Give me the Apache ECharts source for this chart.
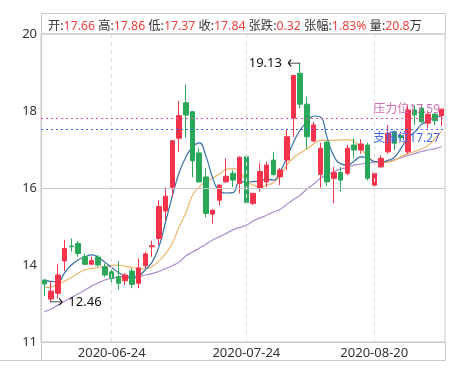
<!DOCTYPE html>
<html><head><meta charset="utf-8">
<script src="https://cdn.jsdelivr.net/npm/echarts@6/dist/echarts.min.js"></script>
<style>html,body{margin:0;padding:0;background:#fff}#c{width:450px;height:372px}</style>
</head><body><div id="c"></div>
<script>
const dates = ['2020-06-10','2020-06-11','2020-06-12','2020-06-15','2020-06-16','2020-06-17','2020-06-18','2020-06-19','2020-06-22','2020-06-23',
'2020-06-24','2020-06-29','2020-06-30','2020-07-01','2020-07-02','2020-07-03','2020-07-06','2020-07-07','2020-07-08','2020-07-09',
'2020-07-10','2020-07-13','2020-07-14','2020-07-15','2020-07-16','2020-07-17','2020-07-20','2020-07-21','2020-07-22','2020-07-23',
'2020-07-24','2020-07-27','2020-07-28','2020-07-29','2020-07-30','2020-07-31','2020-08-03','2020-08-04','2020-08-05','2020-08-06',
'2020-08-07','2020-08-10','2020-08-11','2020-08-12','2020-08-13','2020-08-14','2020-08-17','2020-08-18','2020-08-19','2020-08-20',
'2020-08-21','2020-08-24','2020-08-25','2020-08-26','2020-08-27','2020-08-28','2020-08-31','2020-09-01','2020-09-02','2020-09-03'];
const opens  = [13.07,12.54,12.70,13.60,14.02,14.09,13.72,13.51,13.71,13.44, 13.30,13.16,13.05,13.32,12.98,13.47,14.00,14.23,15.00,15.66,
                17.03,18.02,17.77,16.62,15.95,14.91,15.30,15.81,16.05,15.77, 16.51,15.21,15.63,15.81,16.42,15.95,16.42,17.59,18.84,17.98,
                16.95,16.02,16.92,15.91,16.07,16.05,16.84,16.70,16.84,15.72, 16.23,16.65,17.21,17.10,16.65,17.82,17.87,17.45,17.70,17.66];
const closes = [12.96,12.76,13.21,13.95,14.00,13.81,13.51,13.61,13.49,13.21, 13.12,12.98,13.21,12.95,13.41,13.80,14.03,15.12,15.41,16.96,
                17.66,17.68,16.40,15.81,14.93,15.02,15.72,15.97,15.86,16.50, 15.23,15.49,16.10,16.28,16.02,16.14,17.07,18.78,17.98,17.07,
                17.40,16.75,15.81,16.07,15.86,16.75,16.70,16.87,15.91,16.05, 16.47,17.17,16.89,17.05,17.82,17.68,17.49,17.70,17.52,17.84];
const lows   = [12.62,12.46,12.56,13.32,13.86,13.72,13.49,13.49,13.44,13.16, 12.98,12.80,12.93,12.84,12.84,13.40,13.72,14.05,14.74,15.40,
                16.64,17.03,15.94,15.79,14.82,14.65,15.16,15.79,15.67,15.49, 15.21,15.16,15.54,15.67,15.97,15.72,16.14,17.07,17.86,16.73,
                16.92,15.65,15.70,15.21,15.54,16.00,16.47,16.60,15.85,15.58, 16.20,16.60,16.70,16.95,16.60,17.40,17.45,17.30,17.40,17.37];
const highs  = [13.09,13.02,13.51,14.19,14.23,14.16,13.81,13.72,13.77,13.54, 13.38,13.60,13.26,13.40,13.68,13.86,14.17,15.30,15.66,16.98,
                18.07,18.52,17.78,16.75,16.19,15.04,15.74,16.47,16.14,16.52, 16.52,15.50,16.33,16.37,16.65,16.20,17.26,18.80,19.13,18.19,
                17.49,16.90,16.95,16.23,16.23,16.84,17.03,17.00,16.90,16.10, 16.55,17.40,17.25,17.15,17.95,17.95,17.95,17.80,17.75,17.86];
const ma5  = [13.06,13.03,13.02,13.27,13.49,13.63,13.72,13.77,13.70,13.57, 13.42,13.28,13.18,13.12,13.18,13.36,13.57,13.99,14.69,15.41,
              16.06,16.50,16.78,16.90,16.53,15.92,15.55,15.50,15.51,15.81, 15.81,15.82,15.83,15.89,15.86,16.09,16.48,16.92,17.26,17.48,
              17.65,17.62,17.04,16.53,16.32,16.28,16.39,16.51,16.48,16.38, 16.37,16.41,16.50,16.76,17.04,17.20,17.41,17.52,17.61,17.65];
const ma10 = [12.86,12.87,12.96,13.04,13.14,13.26,13.35,13.39,13.42,13.45, 13.48,13.49,13.46,13.42,13.38,13.38,13.45,13.60,13.81,14.10,
              14.55,14.94,15.44,15.67,15.81,15.92,16.03,16.16,16.18,16.10, 15.83,15.72,15.68,15.72,15.79,15.97,16.28,16.48,16.62,16.73,
              16.87,16.97,16.97,16.97,16.98,16.99,16.94,16.74,16.53,16.38, 16.35,16.36,16.41,16.52,16.60,16.66,16.73,16.83,17.02,17.23];
const ma20 = [12.19,12.26,12.37,12.48,12.58,12.68,12.79,12.90,12.99,13.07, 13.12,13.15,13.17,13.18,13.18,13.21,13.25,13.31,13.39,13.47,
              13.57,13.74,13.85,13.96,14.07,14.19,14.28,14.37,14.47,14.54, 14.60,14.72,14.80,14.88,14.97,15.04,15.18,15.32,15.44,15.61,
              15.75,15.91,16.00,16.10,16.17,16.22,16.28,16.31,16.34,16.35, 16.36,16.38,16.43,16.49,16.55,16.60,16.66,16.70,16.74,16.80];
const yTickLabels = ['11','14','16','18','20'];
const yMin = 11.34, yMax = 19.94;
const shownDates = ['2020-06-24','2020-07-24','2020-08-20'];
const pressureLevel = 17.59, supportLevel = 17.27;
const pressureText = '压力位17.59', supportText = '支撑位17.27';
const highMark = {date: '2020-08-05', value: 19.13};
const lowMark = {date: '2020-06-11', value: 12.46};
const infoKeys = ['开','高','低','收','张跌','张幅','量'];
const infoVals = ['17.66','17.86','17.37','17.84','0.32','1.83%','20.8'];
const infoUnit = '万';

const RED = '#f5334b', GREEN = '#2aa85a';
const GRID = {l: 41, r: 5, t: 34, b: 30};
const W = 450, H = 372;
const step = (yMax - yMin) / (yTickLabels.length - 1);
const yTickVals = yTickLabels.map((_, i) => yMin + i * step);
const yMid = yTickVals[2];

const kdata = dates.map((d, i) => [opens[i], closes[i], lows[i], highs[i]]);
const infoText = infoKeys.map((k, i) => '{k|' + k + ':}{v|' + infoVals[i] + '}' + (i === infoKeys.length - 1 ? '{k|' + infoUnit + '}' : '')).join(' ');

const chart = echarts.init(document.getElementById('c'), null, {renderer: 'canvas'});
const lineC = '#c8c8c8';
const FF = '"Noto Sans", "Noto Sans CJK SC", sans-serif';
chart.setOption({
  animation: false,
  textStyle: {fontFamily: FF},
  title: {
    text: infoText, left: GRID.l + 2, top: 15,
    textStyle: {fontSize: 12, fontWeight: 'normal',
      rich: {k: {color: '#333', fontSize: 12.3, fontFamily: FF},
             v: {color: '#f0403c', fontSize: 12.3, fontFamily: FF}}}
  },
  graphic: [
    {type: 'rect', shape: {x: GRID.l + 0.5, y: 13.5, width: W - GRID.l - GRID.r, height: GRID.t - 13.5}, style: {fill: 'none', stroke: lineC, lineWidth: 1}, silent: true},
    {type: 'line', shape: {x1: 0, y1: H - 11.5, x2: W - GRID.r + 0.5, y2: H - 11.5}, style: {stroke: lineC, lineWidth: 1}, silent: true},
    {type: 'line', shape: {x1: GRID.l + 0.5, y1: H - GRID.b, x2: GRID.l + 0.5, y2: H - 11.5}, style: {stroke: lineC, lineWidth: 1}, silent: true},
    {type: 'line', shape: {x1: W - GRID.r + 0.5, y1: H - GRID.b, x2: W - GRID.r + 0.5, y2: H - 11.5}, style: {stroke: lineC, lineWidth: 1}, silent: true}
  ],
  grid: {left: GRID.l, right: GRID.r, top: GRID.t, bottom: GRID.b, show: true, borderColor: lineC, borderWidth: 1},
  xAxis: {
    type: 'category', data: dates, boundaryGap: true,
    axisLine: {show: true, lineStyle: {color: lineC}}, axisTick: {show: false},
    axisLabel: {color: '#333', fontSize: 13, margin: 5, interval: (i, v) => shownDates.indexOf(v) >= 0},
    splitLine: {show: false}
  },
  yAxis: {
    type: 'value', min: yMin, max: yMax,
    axisLine: {show: true, lineStyle: {color: lineC}}, axisTick: {show: false},
    splitLine: {show: false},
    axisLabel: {color: '#333', fontSize: 13, margin: 4, customValues: yTickVals,
      formatter: (v) => { let bi = 0, bd = 1e9; yTickVals.forEach((t, i) => { const d = Math.abs(t - v); if (d < bd) { bd = d; bi = i; } }); return yTickLabels[bi]; }}
  },
  series: [
    {
      type: 'line', data: [], z: 1, silent: true,
      markLine: {
        silent: true, symbol: 'none', animation: false, precision: 2,
        data: [
          {yAxis: yMid, lineStyle: {color: lineC, type: 'solid', width: 1}, label: {show: false}},
          ...shownDates.map(d => ({xAxis: d, lineStyle: {color: '#dcdcdc', type: [4, 4], width: 1}, label: {show: false}})),
          {yAxis: pressureLevel, lineStyle: {color: '#e052a8', type: [2, 3], width: 1, opacity: 1},
            label: {show: true, position: 'insideEndTop', formatter: pressureText, color: '#d46cb2', fontSize: 12, distance: [5, 3]}},
          {yAxis: supportLevel, lineStyle: {color: '#3b63ff', type: [2, 3], width: 1, opacity: 1},
            label: {show: true, position: 'insideEndBottom', formatter: supportText, color: '#4466e6', fontSize: 12, distance: [5, 3]}}
        ]
      }
    },
    {type: 'line', name: 'MA20', data: ma20, z: 2, symbol: 'none', smooth: true, lineStyle: {color: '#a98ccb', width: 1.2}},
    {type: 'line', name: 'MA10', data: ma10, z: 2, symbol: 'none', smooth: true, lineStyle: {color: '#f0b46a', width: 1.2}},
    {type: 'line', name: 'MA5', data: ma5, z: 2, symbol: 'none', smooth: true, lineStyle: {color: '#3370a8', width: 1.2}},
    {
      type: 'candlestick', data: kdata, z: 3, barWidth: 5,
      itemStyle: {color: RED, color0: GREEN, borderColor: RED, borderColor0: GREEN, borderWidth: 1},
      markPoint: {
        silent: true, animation: false,
        data: [
          {coord: [highMark.date, highMark.value], value: highMark.value,
            symbol: 'path://M0,4 L16,4 M0,4 L4,1 M0,4 L4,7', symbolSize: [12, 7], symbolOffset: [-6, 0],
            itemStyle: {color: 'none', borderColor: '#111', borderWidth: 1},
            label: {show: true, position: 'left', formatter: '{c}', color: '#111', fontSize: 13, distance: 3}},
          {coord: [lowMark.date, lowMark.value], value: lowMark.value,
            symbol: 'path://M0,4 L16,4 M16,4 L12,1 M16,4 L12,7', symbolSize: [12, 7], symbolOffset: [5, 0],
            itemStyle: {color: 'none', borderColor: '#111', borderWidth: 1},
            label: {show: true, position: 'right', formatter: '{c}', color: '#111', fontSize: 13, distance: 3}}
        ]
      }
    }
  ]
});
</script></body></html>
